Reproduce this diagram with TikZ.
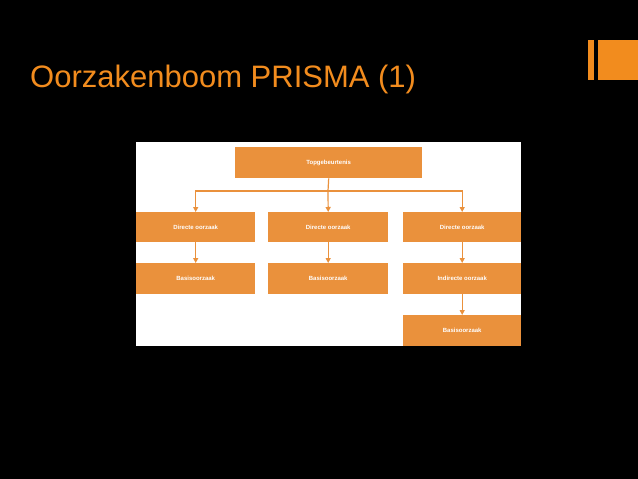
\documentclass[tikz,border=0pt]{standalone}
\usepackage{fontspec}
\setmainfont{Liberation Sans}
\usetikzlibrary{arrows.meta}
\definecolor{orng}{HTML}{F28C1E}
\definecolor{boxc}{HTML}{EA913C}
\begin{document}
\begin{tikzpicture}[x=1pt,y=-1pt,
  bx/.style={fill=boxc,draw=none,anchor=north west,inner sep=0pt,text=white,font=\bfseries\fontsize{6}{7}\selectfont},
  ar/.style={draw=boxc,line width=1.2pt,-{Triangle[width=5pt,length=5pt]}}]
\fill[black] (0,0) rectangle (638,479);
\useasboundingbox (0,0) rectangle (638,479);
\node[anchor=base west,text=orng,font=\fontsize{31}{36}\selectfont,inner sep=0pt] (title) at (30,87) {Oorzakenboom PRISMA (1)};
\fill[orng] (588,40) rectangle (594,80);
\fill[orng] (598,40) rectangle (638,80);
\fill[white] (136,142) rectangle (521,346);
\node[bx,minimum width=187pt,minimum height=31pt] (top) at (235,147) {Topgebeurtenis};
\node[bx,minimum width=119pt,minimum height=30pt] (d1) at (136,212) {Directe oorzaak};
\node[bx,minimum width=120pt,minimum height=30pt] (d2) at (268,212) {Directe oorzaak};
\node[bx,minimum width=118pt,minimum height=30pt] (d3) at (403,212) {Directe oorzaak};
\node[bx,minimum width=119pt,minimum height=31pt] (b1) at (136,263) {Basisoorzaak};
\node[bx,minimum width=120pt,minimum height=31pt] (b2) at (268,263) {Basisoorzaak};
\node[bx,minimum width=118pt,minimum height=31pt] (i3) at (403,263) {Indirecte oorzaak};
\node[bx,minimum width=118pt,minimum height=31pt] (b3) at (403,315) {Basisoorzaak};
\coordinate (j) at (328,191);
\draw[draw=boxc,line width=1.2pt] (top.south) -- (j);
\draw[ar] (j) -| (d1.north);
\draw[ar] (j) -- (d2.north);
\draw[ar] (j) -| (d3.north);
\draw[ar] (d1) -- (b1);
\draw[ar] (d2) -- (b2);
\draw[ar] (d3) -- (i3);
\draw[ar] (i3) -- (b3);
\end{tikzpicture}
\end{document}
